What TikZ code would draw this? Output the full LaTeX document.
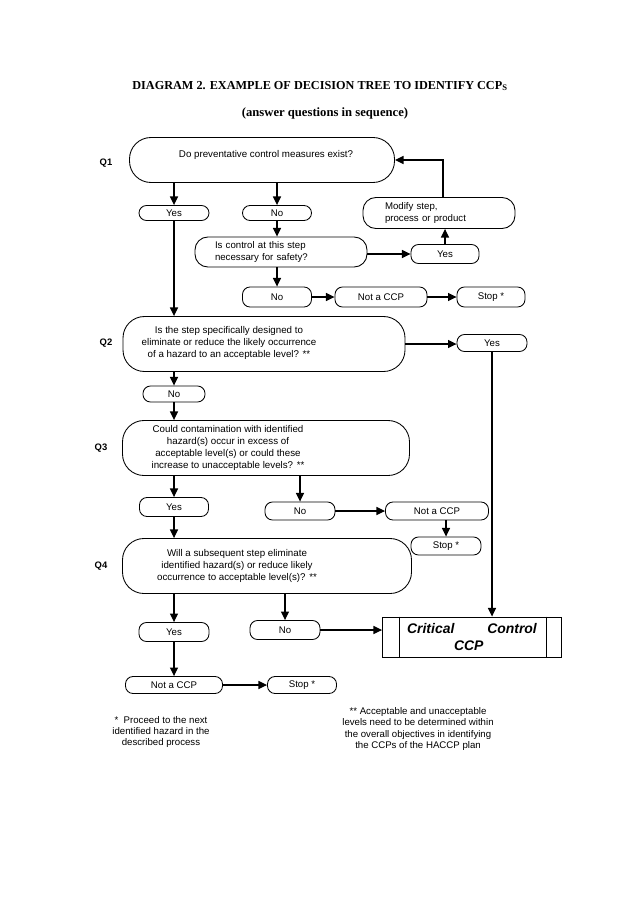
\documentclass[tikz,border=0pt]{standalone}
\usepackage{fontspec}
\setmainfont{Liberation Serif}
\newfontfamily\arialfont{Liberation Sans}
\usetikzlibrary{arrows.meta}
\newcommand{\pxu}{0.9326pt}

\begin{document}
\begin{tikzpicture}[
    x=\pxu, y=-\pxu,
    sz/.style 2 args={minimum width=#1*\pxu, minimum height=#2*\pxu},
    pill/.style={draw, line width=0.8pt, rounded corners=7pt, inner sep=0pt, font=\arialfont\fontsize{9}{10.9}\selectfont},
    qbox/.style={draw, line width=0.8pt, rounded corners=20pt, inner sep=0pt},
    qtext/.style={align=center, inner sep=0pt, font=\arialfont\fontsize{9.1}{10.9}\selectfont},
    qlabel/.style={font=\arialfont\bfseries\fontsize{8.8}{10}\selectfont},
    note/.style={align=center, inner sep=0pt, font=\arialfont\fontsize{9}{10.4}\selectfont},
    arrow/.style={-{Triangle[length=8pt,width=7.5pt]}, line width=1.2pt}
]
\useasboundingbox (0,0) rectangle (638,903);

% Titles
\node[font=\bfseries\fontsize{11.4}{13}\selectfont] (title) at (320,86) {DIAGRAM 2. EXAMPLE OF DECISION TREE TO IDENTIFY CCP\textsubscript{S}};
\node[font=\bfseries\fontsize{11.8}{13}\selectfont] (subtitle) at (325,113) {(answer questions in sequence)};

% Question labels
\node[qlabel] (lq1) at (106,163) {Q1};
\node[qlabel] (lq2) at (106,343) {Q2};
\node[qlabel] (lq3) at (101,448) {Q3};
\node[qlabel] (lq4) at (101,566) {Q4};

% Q1
\node[qbox, sz={265}{45}] (q1) at (262,160) {};
\node[qtext] (q1t) at (266,155) {Do preventative control measures exist?};
\node[pill, sz={70}{15}] (yes1) at (174,213) {Yes};
\node[pill, sz={69}{15}] (no1) at (277,213) {No};
\node[pill, sz={152}{31}, rounded corners=12pt, align=left, text width=108*\pxu, inner xsep=22*\pxu] (modify) at (439,213) {Modify step,\\process or product};
\node[pill, sz={172}{30}, rounded corners=12pt, align=left, text width=132*\pxu, inner xsep=20*\pxu] (isctrl) at (281,252) {Is control at this step\\necessary for safety?};
\node[pill, sz={68}{19}] (yes2) at (445,254) {Yes};
\node[pill, sz={69}{20}] (no2) at (277,297) {No};
\node[pill, sz={92}{20}] (notccp1) at (381,297) {Not a CCP};
\node[pill, sz={68}{20}] (stop1) at (491,297) {Stop *};

% Q2
\node[qbox, sz={282}{55}] (q2) at (264,344) {};
\node[qtext] (q2t) at (229,343) {Is the step specifically designed to\\eliminate or reduce the likely occurrence\\of a hazard to an acceptable level? **};
\node[pill, sz={70}{17}] (yes3) at (492,343) {Yes};
\node[pill, sz={62}{16}] (no3) at (174,394) {No};

% Q3
\node[qbox, sz={287}{55}] (q3) at (266,448) {};
\node[qtext] (q3t) at (228,448) {Could contamination with identified\\hazard(s) occur in excess of\\acceptable level(s) or could these\\increase to unacceptable levels? **};
\node[pill, sz={69}{19}] (yes4) at (174,507) {Yes};
\node[pill, sz={70}{18}] (no4) at (300,511) {No};
\node[pill, sz={103}{18}] (notccp2) at (437,511) {Not a CCP};
\node[pill, sz={70}{18}] (stop2) at (446,546) {Stop *};

% Q4
\node[qbox, sz={289}{55}] (q4) at (267,566) {};
\node[qtext] (q4t) at (237,566) {Will a subsequent step eliminate\\identified hazard(s) or reduce likely\\occurrence to acceptable level(s)? **};
\node[pill, sz={70}{19}] (yes5) at (174,632) {Yes};
\node[pill, sz={70}{19}] (no5) at (285,630) {No};
\node[pill, sz={97}{17}] (notccp3) at (174,685) {Not a CCP};
\node[pill, sz={69}{17}] (stop3) at (302,685) {Stop *};

% Critical control point box
\node[draw, line width=0.8pt, sz={179}{40}, inner sep=0pt, align=center, font=\arialfont\bfseries\itshape\fontsize{13}{16.5}\selectfont] (ccp) at (472,637) {\makebox[121pt]{Critical\hfill Control}\\CCP\hspace*{6pt}};
\draw[line width=0.8pt] ([xshift=17*\pxu]ccp.north west) -- ([xshift=17*\pxu]ccp.south west);
\draw[line width=0.8pt] ([xshift=-16*\pxu]ccp.north east) -- ([xshift=-16*\pxu]ccp.south east);

% Footnotes
\node[note] (note1) at (161,732) {* \ Proceed to the next\\identified hazard in the\\described process};
\node[note] (note2) at (418,729) {** Acceptable and unacceptable\\levels need to be determined within\\the overall objectives in identifying\\the CCPs of the HACCP plan};

% Arrows
\draw[arrow] (q1.south -| yes1) -- (yes1.north);
\draw[arrow] (q1.south -| no1) -- (no1.north);
\draw[arrow] (no1.south) -- (no1.south |- isctrl.north);
\draw[arrow] (isctrl.east |- yes2) -- (yes2.west);
\draw[arrow] (yes2.north) -- (yes2.north |- modify.south);
\draw[arrow] ([xshift=4*\pxu]modify.north) |- (q1.east);
\draw[arrow] (isctrl.south -| no2) -- (no2.north);
\draw[arrow] (no2) -- (notccp1);
\draw[arrow] (notccp1) -- (stop1);
\draw[arrow] (yes1.south) -- (yes1.south |- q2.north);
\draw[arrow] (q2.east) -- (q2.east -| yes3.west);
\draw[arrow] (q2.south -| no3) -- (no3.north);
\draw[arrow] (yes3.south) -- (yes3.south |- ccp.north);
\draw[arrow] (no3.south) -- (no3.south |- q3.north);
\draw[arrow] (q3.south -| yes4) -- (yes4.north);
\draw[arrow] (q3.south -| no4) -- (no4.north);
\draw[arrow] (no4.east) -- (no4.east -| notccp2.west);
\draw[arrow] (notccp2.south -| stop2) -- (stop2.north);
\draw[arrow] (yes4.south) -- (yes4.south |- q4.north);
\draw[arrow] (q4.south -| yes5) -- (yes5.north);
\draw[arrow] (q4.south -| no5) -- (no5.north);
\draw[arrow] (no5.east) -- (no5.east -| ccp.west);
\draw[arrow] (yes5.south) -- (yes5.south |- notccp3.north);
\draw[arrow] (notccp3.east) -- (stop3.west);

\end{tikzpicture}
\end{document}
